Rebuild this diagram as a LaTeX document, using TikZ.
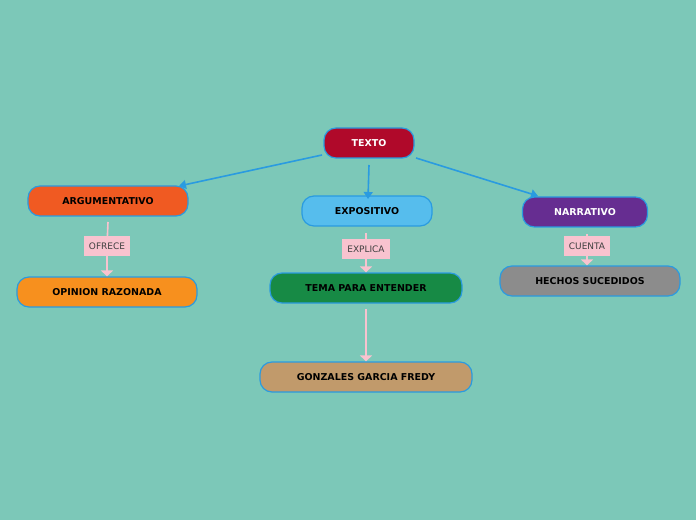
\documentclass[tikz,border=0pt]{standalone}
\usepackage{fontspec}
\setmainfont{DejaVu Sans}
\usetikzlibrary{arrows.meta,positioning}
\definecolor{bgteal}{HTML}{7CC8B8}
\definecolor{linkblue}{HTML}{2A9BE0}
\definecolor{tagpink}{HTML}{F8C3CF}

\begin{document}
\begin{tikzpicture}[x=1bp,y=-1bp,
	  every node/.style={font=\fontsize{9.5}{11}\selectfont},
	  topic/.style={draw=linkblue,line width=1.2bp,rounded corners=12bp,minimum height=30bp,inner sep=0pt,font=\fontsize{9.5}{11}\selectfont\bfseries},
	  tag/.style={fill=tagpink,draw=none,minimum height=20bp,inner xsep=5bp,inner ysep=0pt,text=black!75,font=\fontsize{9}{11}\selectfont},
	  to/.style={-{Triangle[width=9bp,length=7bp]},draw=linkblue,line width=1.6bp},
	  sub/.style={draw=tagpink,line width=1.6bp}]

	  % background
	  \fill[bgteal] (0,0) rectangle (696,520);
	  \useasboundingbox (0,0) rectangle (696,520);

	  % main topics
	  \node[topic,fill={rgb,255:red,176;green,9;blue,42},text=white,minimum width=90bp] (texto) at (369,143) {TEXTO};
	  \node[topic,fill={rgb,255:red,240;green,90;blue,34},minimum width=160bp] (argumentativo) at (108,201) {ARGUMENTATIVO};
	  \node[topic,fill={rgb,255:red,86;green,189;blue,237},minimum width=130bp] (expositivo) at (367,211) {EXPOSITIVO};
	  \node[topic,fill={rgb,255:red,102;green,45;blue,145},text=white,minimum width=125bp] (narrativo) at (585,212) {NARRATIVO};

	  % sub topics
	  \node[topic,fill={rgb,255:red,247;green,144;blue,30},minimum width=180bp] (opinion) at (107,292) {OPINION RAZONADA};
	  \node[topic,fill={rgb,255:red,23;green,138;blue,69},minimum width=192bp] (tema) at (366,288) {TEMA PARA ENTENDER};
	  \node[topic,fill={rgb,255:red,193;green,154;blue,107},minimum width=212bp] (gonzales) at (366,377) {GONZALES GARCIA FREDY};
	  \node[topic,fill={rgb,255:red,140;green,140;blue,140},minimum width=180bp] (hechos) at (590,281) {HECHOS SUCEDIDOS};

	  % labels
	  \node[tag] (ofrece) at (107,246) {OFRECE};
	  \node[tag] (explica) at (366,249) {EXPLICA};
	  \node[tag] (cuenta) at (587,246) {CUENTA};

	  % link ends
	  \coordinate (ta) at (322,155); \coordinate (ha) at (179,186);
	  \coordinate (tb) at (369,165); \coordinate (hb) at (368,199);
	  \coordinate (tc) at (416,158); \coordinate (hc) at (538,196);
	  \coordinate (aa) at (108,222);
	  \coordinate (ea) at (366,233);
	  \coordinate (tg) at (366,309);
	  \coordinate (na) at (587,234);

	  \draw[to] (ta) -- (ha);
	  \draw[to] (tb) -- (hb);
	  \draw[to] (tc) -- (hc);

	  \draw[sub] (aa) -- (ofrece);
	  \draw[sub,-{Triangle[width=12bp,length=6bp]}] (ofrece) -- (opinion);
	  \draw[sub] (ea) -- (explica);
	  \draw[sub,-{Triangle[width=12bp,length=6bp]}] (explica) -- (tema);
	  \draw[sub,-{Triangle[width=12bp,length=6bp]}] (tg) -- (gonzales);
	  \draw[sub] (na) -- (cuenta);
	  \draw[sub,-{Triangle[width=12bp,length=6bp]}] (cuenta) -- (cuenta |- hechos.north);
\end{tikzpicture}
\end{document}
